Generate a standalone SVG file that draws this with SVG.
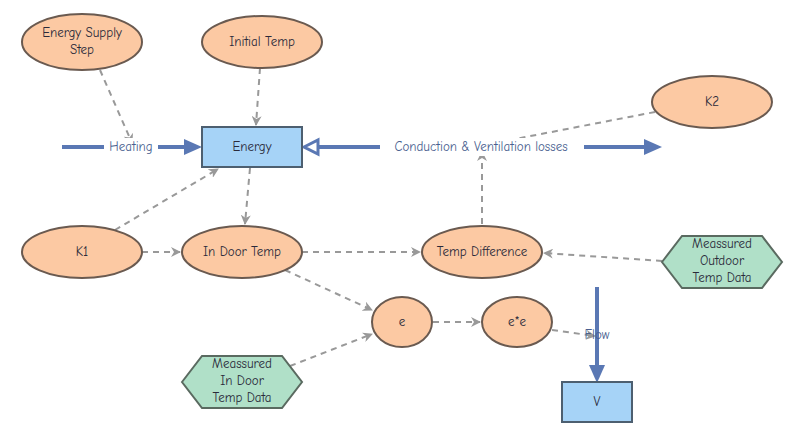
<svg xmlns="http://www.w3.org/2000/svg" width="800" height="438" viewBox="0 0 800 438">
<style>
text{font-family:"Comic Neue","DejaVu Sans",sans-serif;font-size:13px;fill:#2a2a3a;text-anchor:middle;dominant-baseline:middle}
.aux{fill:#fcc9a3;stroke:#6a5a50;stroke-width:2}
.stock{fill:#a6d3f7;stroke:#4d5f70;stroke-width:2}
.data{fill:#b0e0c8;stroke:#5a6a60;stroke-width:2}
.dep{stroke:#999;stroke-width:2;stroke-dasharray:6,5;fill:none;marker-end:url(#ga)}
.flow{stroke:#5a78b4;stroke-width:4;fill:none}
.fl{fill:#4a5f90}
</style>
<defs>
<marker id="ga" markerWidth="10" markerHeight="10" refX="9" refY="5" orient="auto" markerUnits="userSpaceOnUse"><path d="M0,0 L10,5 L0,10 L3,5z" fill="#999"/></marker>
</defs>
<g id="connectors">
<path class="dep" d="M100,70 L132,143"/>
<path class="dep" d="M260,68 L256,125"/>
<path class="dep" d="M655,112 L484,145"/>
<path class="dep" d="M115,230 L218,169"/>
<path class="dep" d="M250,168 L245,224"/>
<path class="dep" d="M142,252 L180,252"/>
<path class="dep" d="M302,252 L420,252"/>
<path class="dep" d="M482,224 L482,152"/>
<path class="dep" d="M662,261 L544,253"/>
<path class="dep" d="M285,270 L372,310"/>
<path class="dep" d="M290,366 L372,334"/>
<path class="dep" d="M433,322 L480,322"/>
<path class="dep" d="M552,330 L595,336"/>
<path class="flow" d="M62,147 L185,147"/>
<path d="M202,147 L184,139 L184,155z" fill="#5a78b4"/>
<path class="flow" d="M318,147 L645,147"/>
<path d="M662,147 L644,139 L644,155z" fill="#5a78b4"/>
<path d="M304,147 L318,140 L318,154z" fill="#fff" stroke="#5a78b4" stroke-width="3"/>
<path class="flow" d="M597,287 L597,366"/>
<path d="M597,383 L589,365 L605,365z" fill="#5a78b4"/>
<rect x="104" y="138" width="54" height="18" fill="#fff"/>
<text class="fl" x="131" y="148">Heating</text>
<rect x="380" y="138" width="204" height="18" fill="#fff"/>
<text class="fl" x="481" y="148">Conduction &amp; Ventilation losses</text>
<text class="fl" x="597" y="336">Flow</text>
</g>
<g id="energy-supply-step"><ellipse class="aux" cx="82" cy="42" rx="60" ry="28"/><text x="82" y="34">Energy Supply</text><text x="82" y="51">Step</text></g>
<g id="initial-temp"><ellipse class="aux" cx="262" cy="42" rx="60" ry="26"/><text x="262" y="43">Initial Temp</text></g>
<g id="k2"><ellipse class="aux" cx="712" cy="102" rx="60" ry="26"/><text x="712" y="103">K2</text></g>
<g id="energy"><rect class="stock" x="202" y="127" width="100" height="40"/><text x="252" y="148">Energy</text></g>
<g id="k1"><ellipse class="aux" cx="82" cy="252" rx="60" ry="26"/><text x="82" y="253">K1</text></g>
<g id="in-door-temp"><ellipse class="aux" cx="242" cy="252" rx="60" ry="26"/><text x="242" y="253">In Door Temp</text></g>
<g id="temp-difference"><ellipse class="aux" cx="482" cy="252" rx="60" ry="26"/><text x="482" y="253">Temp Difference</text></g>
<g id="outdoor-data"><polygon class="data" points="662,262 682,236 762,236 782,262 762,288 682,288"/><text x="722" y="245">Meassured</text><text x="722" y="262">Outdoor</text><text x="722" y="279">Temp Data</text></g>
<g id="e"><ellipse class="aux" cx="402" cy="322" rx="30" ry="25"/><text x="402" y="323">e</text></g>
<g id="ee"><ellipse class="aux" cx="517" cy="322" rx="35" ry="25"/><text x="517" y="323">e*e</text></g>
<g id="indoor-data"><polygon class="data" points="182,382 202,356 282,356 302,382 282,408 202,408"/><text x="242" y="365">Meassured</text><text x="242" y="382">In Door</text><text x="242" y="399">Temp Data</text></g>
<g id="v"><rect class="stock" x="562" y="382" width="70" height="40"/><text x="597" y="403">V</text></g>
</svg>
